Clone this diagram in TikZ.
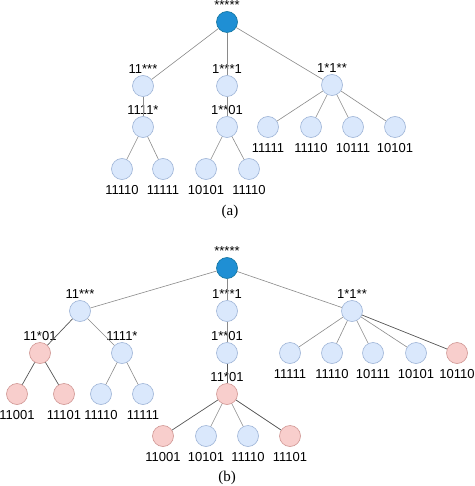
\documentclass[tikz,border=0pt]{standalone}
\usepackage{fontspec}
\setmainfont{Liberation Serif}
\setsansfont{Liberation Sans}
\definecolor{rootfill}{HTML}{1F8FD4}
\definecolor{rootdraw}{HTML}{10739E}
\definecolor{lbfill}{HTML}{DAE8FC}
\definecolor{lbdraw}{HTML}{9DB3D6}
\definecolor{pkfill}{HTML}{F8CECC}
\definecolor{pkdraw}{HTML}{CF9592}
\definecolor{edgegray}{HTML}{8A8A8A}
\definecolor{edgedark}{HTML}{555555}
\tikzset{
  cnode/.style={circle, minimum size=21pt, inner sep=0pt, line width=0.6pt},
  rootn/.style={cnode, fill=rootfill, draw=rootdraw},
  lbn/.style={cnode, fill=lbfill, draw=lbdraw},
  pkn/.style={cnode, fill=pkfill, draw=pkdraw},
  lab/.style={font=\sffamily\fontsize{13}{15}\selectfont, inner sep=0pt, text=black},
  labup/.style={label={[lab, label distance=1.5pt]above:#1}},
  labdn/.style={label={[lab, label distance=5.5pt]below:#1}},
  lnk/.style={draw=edgegray, line width=0.6pt},
  lnkd/.style={draw=edgedark, line width=0.7pt},
  captext/.style={font=\rmfamily\fontsize{15}{17}\selectfont, inner sep=0pt}
}
\begin{document}
\begin{tikzpicture}[x=1pt, y=-1pt]
\useasboundingbox (0,0) rectangle (474,486);
% ---------- (a) ----------
\node[rootn, labup={*****}] (ar) at (227,22) {};
\node[lbn, labup={11***}] (aa) at (143,86) {};
\node[lbn, labup={1***1}] (ab) at (227,86) {};
\node[lbn, labup={1*1**}] (ac) at (332,85) {};
\node[lbn, labup={1111*}] (aa1) at (143,127) {};
\node[lbn, labup={1**01}] (ab1) at (227,127) {};
\node[lbn, labdn={11111}] (ac1) at (268,127) {};
\node[lbn, labdn={11110}] (ac2) at (311,127) {};
\node[lbn, labdn={10111}] (ac3) at (353,127) {};
\node[lbn, labdn={10101}] (ac4) at (395,127) {};
\node[lbn, labdn={11110}] (aa11) at (122,169) {};
\node[lbn, labdn={11111}] (aa12) at (163,169) {};
\node[lbn, labdn={10101}] (ab11) at (206,169) {};
\node[lbn, labdn={11110}] (ab12) at (249,169) {};
\node[captext] (capa) at (230,212) {(a)};
\draw[lnk] (ar) -- (aa);
\draw[lnk] (ar) -- (ab);
\draw[lnk] (ar) -- (ac);
\draw[lnk] (aa) -- (aa1);
\draw[lnk] (ab) -- (ab1);
\draw[lnk] (ac) -- (ac1);
\draw[lnk] (ac) -- (ac2);
\draw[lnk] (ac) -- (ac3);
\draw[lnk] (ac) -- (ac4);
\draw[lnk] (aa1) -- (aa11);
\draw[lnk] (aa1) -- (aa12);
\draw[lnk] (ab1) -- (ab11);
\draw[lnk] (ab1) -- (ab12);
% ---------- (b) ----------
\node[rootn, labup={*****}] (br) at (227,268) {};
\node[lbn, labup={11***}] (ba) at (80,311) {};
\node[lbn, labup={1***1}] (bb) at (227,311) {};
\node[lbn, labup={1*1**}] (bc) at (352,311) {};
\node[pkn, labup={11*01}] (ba1) at (40,353) {};
\node[lbn, labup={1111*}] (ba2) at (122,353) {};
\node[lbn, labup={1**01}] (bb1) at (227,353) {};
\node[pkn, labup={11*01}] (bb2) at (227,394) {};
\node[pkn, labdn={11001}] (ba11) at (17,394) {};
\node[pkn, labdn={11101}] (ba12) at (64,394) {};
\node[lbn, labdn={11110}] (ba21) at (101,394) {};
\node[lbn, labdn={11111}] (ba22) at (143,394) {};
\node[lbn, labdn={11111}] (bc1) at (290,353) {};
\node[lbn, labdn={11110}] (bc2) at (332,353) {};
\node[lbn, labdn={10111}] (bc3) at (373,353) {};
\node[lbn, labdn={10101}] (bc4) at (416,353) {};
\node[pkn, labdn={10110}] (bc5) at (457,353) {};
\node[pkn, labdn={11001}] (bb21) at (163,436) {};
\node[lbn, labdn={10101}] (bb22) at (206,436) {};
\node[lbn, labdn={11110}] (bb23) at (248,436) {};
\node[pkn, labdn={11101}] (bb24) at (290,436) {};
\node[captext] (capb) at (227,478) {(b)};
\draw[lnk] (br) -- (ba);
\draw[lnk] (br) -- (bb);
\draw[lnk] (br) -- (bc);
\draw[lnkd] (ba) -- (ba1);
\draw[lnk] (ba) -- (ba2);
\draw[lnkd] (ba1) -- (ba11);
\draw[lnkd] (ba1) -- (ba12);
\draw[lnk] (ba2) -- (ba21);
\draw[lnk] (ba2) -- (ba22);
\draw[lnk] (bb) -- (bb1);
\draw[lnkd] (bb1) -- (bb2);
\draw[lnk] (bc) -- (bc1);
\draw[lnk] (bc) -- (bc2);
\draw[lnk] (bc) -- (bc3);
\draw[lnk] (bc) -- (bc4);
\draw[lnkd] (bc) -- (bc5);
\draw[lnkd] (bb2) -- (bb21);
\draw[lnk] (bb2) -- (bb22);
\draw[lnk] (bb2) -- (bb23);
\draw[lnkd] (bb2) -- (bb24);
\end{tikzpicture}
\end{document}
